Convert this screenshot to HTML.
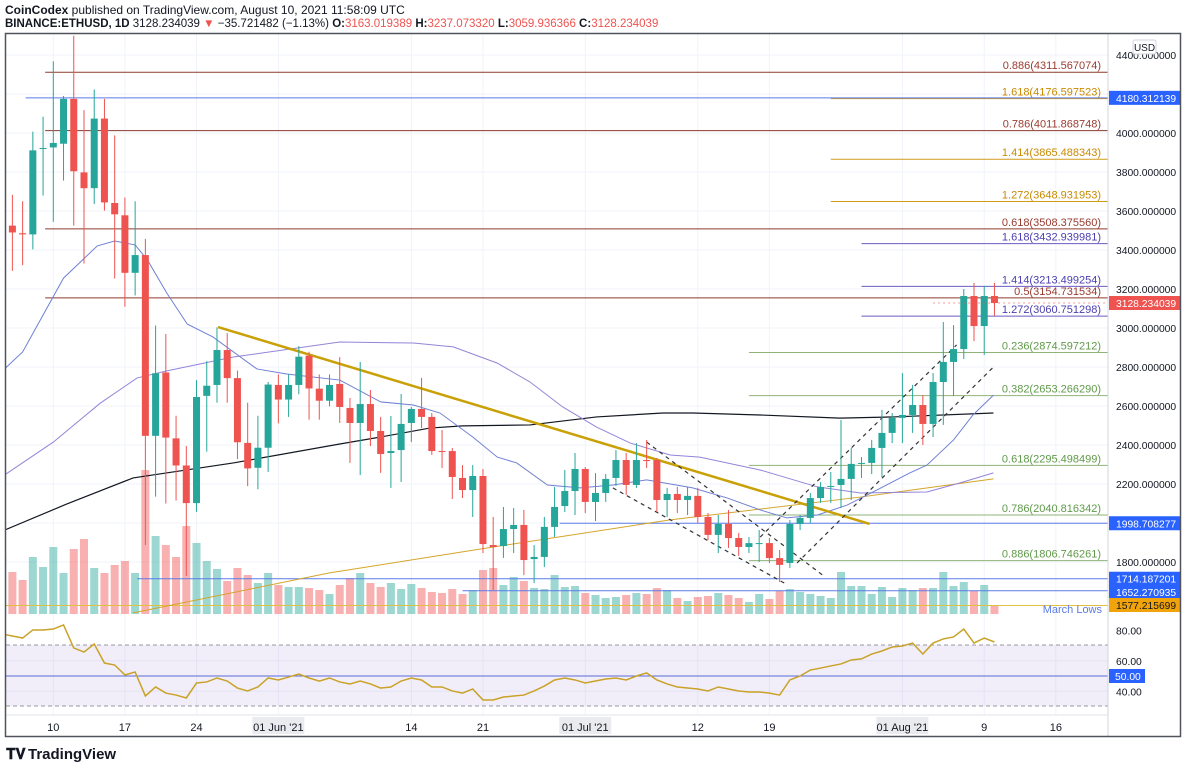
<!DOCTYPE html>
<html><head><meta charset="utf-8">
<style>
html,body{margin:0;padding:0;background:#fff;}
body{width:1186px;height:768px;overflow:hidden;font-family:"Liberation Sans",sans-serif;}
svg text{font-family:"Liberation Sans",sans-serif;}
</style></head>
<body>
<svg id="chart" width="1186" height="768" viewBox="0 0 1186 768" xmlns="http://www.w3.org/2000/svg">
<defs><clipPath id="pc"><rect x="6" y="34" width="1102" height="581"/></clipPath>
<clipPath id="rc"><rect x="6" y="616" width="1102" height="98"/></clipPath></defs>
<rect x="0" y="0" width="1186" height="768" fill="#fff"/>
<text x="5" y="14" font-size="12" fill="#131722"><tspan font-weight="bold">CoinCodex</tspan> published on TradingView.com, August 10, 2021 11:58:09 UTC</text>
<text x="5" y="27" font-size="11.5" fill="#131722"><tspan font-weight="bold">BINANCE:ETHUSD, 1D</tspan> 3128.234039 <tspan fill="#ef5350">▼</tspan> −35.721482 (−1.13%) <tspan font-weight="bold">O:</tspan><tspan fill="#ef5350">3163.019389</tspan> <tspan font-weight="bold">H:</tspan><tspan fill="#ef5350">3237.073320</tspan> <tspan font-weight="bold">L:</tspan><tspan fill="#ef5350">3059.936366</tspan> <tspan font-weight="bold">C:</tspan><tspan fill="#ef5350">3128.234039</tspan></text>
<g id="grid"></g>
<rect x="6" y="645" width="1102" height="61" fill="#7e57c2" fill-opacity="0.1"/>
<line x1="6" y1="645" x2="1108" y2="645" stroke="#9598a1" stroke-dasharray="4,3" stroke-width="1"/>
<line x1="6" y1="706" x2="1108" y2="706" stroke="#9598a1" stroke-dasharray="4,3" stroke-width="1"/>
<line x1="6" y1="676" x2="1108" y2="676" stroke="#5b6bd6" stroke-width="1"/>
<g id="vol" clip-path="url(#pc)"></g>
<g id="levels" clip-path="url(#pc)"></g>
<g id="mas" clip-path="url(#pc)"></g>
<g id="candles" clip-path="url(#pc)"></g>
<g id="rsi" clip-path="url(#rc)"></g>
<g id="axis"></g>
<line x1="1108" y1="34" x2="1108" y2="737" stroke="#d1d4dc"/>
<line x1="6" y1="715" x2="1108" y2="715" stroke="#e0e3eb"/>
<rect x="5.5" y="33.5" width="1175" height="703" fill="none" stroke="#50535e" stroke-width="1.5"/>
<rect x="1133" y="40" width="23" height="14" rx="2" fill="#fff" stroke="#d1d4dc"/>
<text x="1144.5" y="51" font-size="10" text-anchor="middle" fill="#131722">USD</text>
<g><text x="6" y="759" font-size="15" font-weight="bold" fill="#131722">𝐓𝐕</text><text x="28" y="759" font-size="15" font-weight="bold" fill="#131722">TradingView</text></g>
</svg>
<script>
// ---------- data ----------
const dayStart = -5; // day offset from May 10 of first candle
const opens  = [3246,3525,3486,3480,3920,3926,3945,4175,3798,3717,4074,3641,3578,3283,3374,2447,2772,2434,2295,2102,2652,2708,2887,2743,2411,2283,2386,2708,2633,2708,2858,2689,2627,2713,2590,2513,2610,2472,2359,2374,2513,2585,2544,2369,2369,2231,2169,2241,1887,1882,1969,1990,1815,1826,1980,2087,2164,2277,2108,2154,2231,2323,2195,2323,2323,2118,2149,2118,2139,2031,1939,1995,1923,1877,1892,1897,1820,1795,1995,2026,2128,2185,2195,2226,2303,2308,2385,2462,2539,2554,2605,2508,2723,2826,2892,3164,3010,3164];
const highs  = [3554,3683,3650,4007,4084,4368,4190,4499,4117,4223,4175,3988,3669,3650,3457,3013,2969,2550,2395,2733,2830,3003,2974,2782,2617,2550,2723,2762,2762,2907,2878,2762,2762,2851,2641,2826,2682,2544,2549,2662,2595,2744,2564,2477,2385,2297,2297,2277,2031,2082,2077,2067,1887,2031,2185,2272,2359,2287,2256,2251,2374,2359,2410,2426,2333,2180,2185,2185,2180,2051,2041,2067,1949,1928,1964,1923,1862,2015,2041,2154,2210,2262,2528,2385,2338,2426,2580,2564,2769,2708,2656,2769,3031,3015,3200,3231,3216,3231];
const lows   = [3220,3293,3322,3403,3679,3544,3756,3525,3331,3636,3602,3254,3109,3167,1887,2135,2100,2115,1729,2058,2366,2617,2617,2328,2189,2173,2262,2511,2544,2660,2530,2530,2598,2513,2308,2246,2395,2257,2180,2210,2415,2487,2349,2282,2123,2128,2031,1846,1656,1821,1846,1733,1692,1774,1928,2056,2041,2051,2010,2108,2190,2144,2180,2282,2056,2031,2051,2041,2000,1913,1846,1872,1831,1846,1800,1795,1697,1769,1964,2000,2103,2103,2077,2118,2231,2251,2236,2410,2410,2462,2400,2441,2503,2651,2841,2933,2862,3062];
const closes = [3523,3490,3480,3911,3923,3949,4175,3804,3717,4074,3644,3583,3283,3374,2447,2768,2438,2295,2102,2646,2704,2887,2743,2414,2280,2386,2710,2633,2708,2853,2690,2627,2708,2595,2513,2610,2472,2354,2369,2508,2585,2544,2369,2364,2236,2169,2241,1892,1877,1969,1990,1810,1826,1980,2082,2164,2277,2108,2154,2226,2323,2195,2323,2318,2118,2149,2118,2139,2031,1939,1995,1923,1877,1897,1897,1820,1785,1995,2026,2128,2185,2190,2226,2303,2308,2385,2462,2539,2554,2605,2508,2723,2826,2892,3164,3010,3164,3128];
const volumes = [590,420,340,570,470,670,410,650,750,460,410,490,530,410,1440,780,690,570,880,710,530,450,330,460,390,310,410,290,270,270,260,240,200,290,360,410,310,270,310,250,300,260,220,210,250,200,240,440,460,290,370,330,260,250,390,270,280,210,190,160,170,190,210,200,260,240,160,130,170,180,210,190,160,120,200,150,230,250,220,200,180,160,420,280,280,200,270,170,260,240,260,260,420,280,320,230,290,90];
const rsiVals = [77.6,76.2,74.9,80.2,80.2,80.8,83.5,68.4,65.7,71.0,58.5,57.2,50.7,52.6,36.9,42.8,38.8,37.5,35.6,45.4,46.1,48.7,46.7,42.1,40.2,42.8,48.7,47.4,49.3,51.3,48.7,46.7,48.7,46.1,44.8,46.7,44.8,42.1,42.8,46.7,48.7,47.4,42.8,42.8,40.2,38.8,41.5,34.3,34.3,36.2,36.9,37.5,40.2,43.4,47.4,48.7,47.4,45.4,46.7,48.0,48.7,47.4,50.0,52.0,47.4,44.8,42.8,42.1,41.5,40.2,42.8,41.5,40.2,39.5,39.5,38.8,37.5,47.4,50.0,53.9,55.2,56.6,57.9,60.5,61.2,64.4,66.4,69.0,69.7,71.6,64.4,71.6,74.3,75.6,80.8,71.6,74.9,72.3];
const ma20Days = [-5.2,-3,1,4.3,6,8,9.2,11.1,13.1,15.6,19.9,22.8,28,32,35.2,37.8,41,43.4,45.3,48.3,51.5,54.7,58,62.5,65.9,69.1,71.7,74.7,77.6,80.5,83.7,85.4,88,89.9,91.9];
const ma20Vals = [2769,2877,3256,3421,3446,3426,3349,3179,3020,2954,2790,2764,2733,2621,2605,2564,2441,2338,2308,2195,2180,2195,2221,2180,2128,2067,2026,2041,2092,2169,2256,2297,2426,2554,2656];
const ma50Days = [-5.2,0,4.6,8.2,11.1,17.6,28,35.2,39.1,43.4,46.6,49.8,53.1,56.4,60.3,63.2,69.1,74.7,78.9,85.4,88.6,91.9];
const ma50Vals = [2231,2415,2615,2744,2780,2851,2928,2923,2903,2820,2723,2595,2492,2410,2349,2338,2272,2185,2154,2159,2205,2257];
const ma200Days = [-5.2,1.3,7.8,17.6,28,32,36.8,40,46.6,53.1,59.6,62.5,69.1,76.9,82.1,91.9];
const ma200Vals = [1954,2097,2231,2308,2405,2441,2487,2498,2503,2544,2564,2564,2554,2538,2544,2564];
const ma100Days = [7.8,27,43,60.3,78.9,91.9];
const ma100Vals = [1539,1744,1877,2016,2133,2226];
const trendDays = [16.1,79.8];
const trendVals = [3005,1995];
const descUpperDays=[58.0,75.2], descUpperVals=[2415,1733];
const descLowerDays=[54.7,71.8], descLowerVals=[2180,1682];
const ascUpperDays=[69.1,88.3], ascUpperVals=[1928,2913];
const ascLowerDays=[72.7,91.9], ascLowerVals=[1795,2800];
const priceTicks = [4400,4000,3800,3600,3400,3200,3000,2800,2600,2400,2200,1800];
const gridPrices = [4400,4200,4000,3800,3600,3400,3200,3000,2800,2600,2400,2200,2000,1800];
const rsiTicks = [80,60,40];
const dateLabels = ["10","17","24","01 Jun '21","14","21","01 Jul '21","12","19","01 Aug '21","9","16"];
const dateDays = [0,7,14,22,35,42,52,63,70,83,91,98];
const levelPrices = [4311.567074,4176.597523,4011.868748,3865.488343,3648.931953,3508.375560,3432.939981,3213.499254,3154.731534,3060.751298,2874.597212,2653.266290,2295.498499,2040.816342,1806.746261];
const levelRatios = ["0.886","1.618","0.786","1.414","1.272","0.618","1.618","1.414","0.5","1.272","0.236","0.382","0.618","0.786","0.886"];
const levelKinds = ["b","o","b","o","o","b","p","p","b","p","g","g","g","g","g"];
const hLines = [4180.312139,1998.708277,1714.187201,1652.270935,1577.215699];
const hLineStarts = [-2.7,49.5,8.2,40.0,-5.5];

// ---------- scales ----------
const NS="http://www.w3.org/2000/svg";
function xD(d){return 53.3+d*10.23;}
function yP(p){return 133+(4000-p)*0.195;}
function yR(v){return 676-(v-50)*1.525;}
function yV(v){return 614-v*0.1;}
function mk(tag,attrs,parent){const e=document.createElementNS(NS,tag);for(const k in attrs)e.setAttribute(k,attrs[k]);parent.appendChild(e);return e;}
const G=id=>document.getElementById(id);
const UP="#26a69a",DN="#ef5350";

// grid
gridPrices.forEach(p=>{const l=mk('line',{x1:6,x2:1108,y1:yP(p),y2:yP(p),stroke:'#f0f3fa'},G('grid'));

});
dateDays.forEach(d=>{const l=mk('line',{x1:xD(d),x2:xD(d),y1:34,y2:715,stroke:'#f0f3fa'},G('grid'));

});
[60,40].forEach(v=>{mk('line',{x1:6,x2:1108,y1:yR(v),y2:yR(v),stroke:'#f0f3fa'},G('grid'));});

// volume
volumes.forEach((v,i)=>{const d=dayStart+i;const up=closes[i]>=opens[i];
const r=mk('rect',{x:xD(d)-4,y:yV(v),width:8,height:614-yV(v),fill:up?UP:DN,'fill-opacity':0.45},G('vol'));

});

// levels
const kindCol={b:'#8d3a2c',o:'#d19b1a',p:'#6a5bc2',g:'#8fb37a'};
const kindText={b:'#9b3b30',o:'#c98a00',p:'#4a3fb0',g:'#5f9a4a'};
const kindStart={b:-0.8,o:76,p:79,g:68};
levelPrices.forEach((p,i)=>{const k=levelKinds[i];const y=yP(p);
const l=mk('line',{x1:xD(kindStart[k]),x2:1108,y1:y,y2:y,stroke:kindCol[k],'stroke-width':1},G('levels'));


const t=mk('text',{x:1101,y:y-3,'font-size':11,'text-anchor':'end',fill:kindText[k]},G('levels'));
t.textContent=levelRatios[i]+'('+p.toFixed(6)+')';

});
hLines.forEach((p,i)=>{const y=yP(p);const col=i===4?'#e0c040':'#5b7be8';
const l=mk('line',{x1:xD(hLineStarts[i]),x2:1108,y1:y,y2:y,stroke:col,'stroke-width':1},G('levels'));

});
const ml=mk('text',{x:1102,y:613,'font-size':11,'text-anchor':'end',fill:'#5b7be8'},G('levels'));ml.textContent='March Lows';



// moving averages & drawings
function poly(days,vals,col,w,name,dash){const pts=days.map((d,i)=>xD(d)+','+yP(vals[i])).join(' ');
const a={points:pts,fill:'none',stroke:col,'stroke-width':w};if(dash)a['stroke-dasharray']=dash;
const e=mk('polyline',a,G('mas'));}
poly(ma100Days,ma100Vals,'#d4a52a',1,'ma100-line');
poly(ma200Days,ma200Vals,'#131722',1.2,'ma200-line');
poly(ma50Days,ma50Vals,'#9584d8',1,'ma50-line');
poly(ma20Days,ma20Vals,'#6f80d4',1,'ma20-line');
poly(trendDays,trendVals,'#c9a106',2.5,'descending-trendline');
poly(descUpperDays,descUpperVals,'#333',1.2,'desc-channel-upper','4,4');
poly(descLowerDays,descLowerVals,'#333',1.2,'desc-channel-lower','4,4');
poly(ascUpperDays,ascUpperVals,'#333',1.2,'asc-channel-upper','4,4');
poly(ascLowerDays,ascLowerVals,'#333',1.2,'asc-channel-lower','4,4');

// candles
opens.forEach((o,i)=>{const d=dayStart+i,c=closes[i],x=xD(d),col=c>=o?UP:DN;
const g=mk('g',{},G('candles'));


mk('line',{x1:x,x2:x,y1:yP(highs[i]),y2:yP(lows[i]),stroke:col,'stroke-width':1},g);
const top=Math.min(yP(o),yP(c)),h=Math.max(1,Math.abs(yP(o)-yP(c)));
mk('rect',{x:x-3.5,y:top,width:7,height:h,fill:col},g);});

// rsi
const rp=rsiVals.map((v,i)=>xD(dayStart+i)+','+yR(v)).join(' ');
const rl=mk('polyline',{points:rp,fill:'none',stroke:'#c9a227','stroke-width':1.5},G('rsi'));



// axes
priceTicks.forEach(p=>{const t=mk('text',{x:1116,y:yP(p)+4,'font-size':10.3,fill:'#131722'},G('axis'));t.textContent=p.toFixed(6);

});
rsiTicks.forEach(v=>{const t=mk('text',{x:1116,y:yR(v)+4,'font-size':10.3,fill:'#131722'},G('axis'));t.textContent=v.toFixed(2);

});
dateLabels.forEach((s,i)=>{const x=xD(dateDays[i]);
if(s.indexOf("'")>=0){mk('rect',{x:x-26,y:717,width:52,height:17,fill:'#e9ebef'},G('axis'));}
const t=mk('text',{x:x,y:731,'font-size':11,'text-anchor':'middle',fill:'#131722'},G('axis'));t.textContent=s;

});
const boxes=[[4180.312139,'#2962ff','4180.312139'],[3128.234039,'#ef5350','3128.234039'],[1998.708277,'#2962ff','1998.708277'],[1714.187201,'#2962ff','1714.187201'],[1652.270935,'#2962ff','1652.270935'],[1577.215699,'#f0a30a','1577.215699']];
boxes.forEach(b=>{let y=yP(b[0]);if(b[2]==='1652.270935')y=592;if(b[2]==='1577.215699')y=605;
const r=mk('rect',{x:1109,y:y-7,width:71,height:14,fill:b[1]},G('axis'));


const t=mk('text',{x:1116,y:y+4,'font-size':10.3,fill:(b[1]==='#f0a30a'?'#131722':'#fff')},G('axis'));t.textContent=b[2];});
mk('line',{x1:xD(86),x2:1108,y1:yP(3128.234039),y2:yP(3128.234039),stroke:'#ef5350','stroke-dasharray':'2,3','stroke-opacity':0.6},G('axis'));
const rb=mk('rect',{x:1109,y:669,width:36,height:14,fill:'#2962ff'},G('axis'));


const rt=mk('text',{x:1115,y:680,'font-size':10.3,fill:'#fff'},G('axis'));rt.textContent='50.00';
</script>
</body></html>
